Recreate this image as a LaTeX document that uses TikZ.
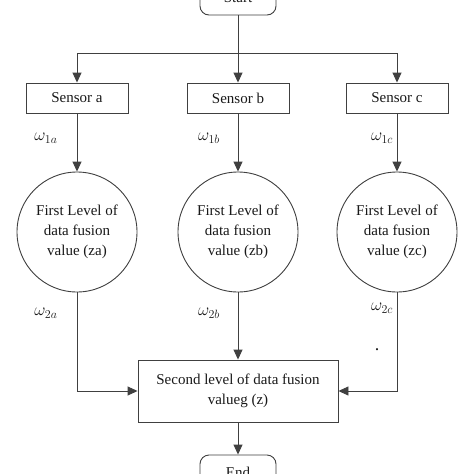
\documentclass[tikz,border=0pt]{standalone}
\usepackage{fontspec}
\setmainfont{Liberation Serif}
\usetikzlibrary{arrows.meta}
\begin{document}
\begin{tikzpicture}[x=1pt,y=-1pt,
  every node/.style={font=\fontsize{15}{20}\selectfont, text=black!90},
  conn/.style={draw=black!75, line width=0.9pt},
  arr/.style={conn, -{Triangle[length=10pt,width=9pt]}},
  termbox/.style={draw=black!75, line width=0.9pt, rounded corners=9pt, minimum width=76pt, minimum height=34pt, inner sep=0pt},
  sensorbox/.style={draw=black!75, line width=0.9pt, minimum width=102pt, minimum height=30pt, inner sep=0pt},
  fusecirc/.style={draw=black!75, line width=0.9pt, circle, minimum size=120pt, inner sep=0pt, align=center},
  wlabel/.style={font=\fontsize{18}{20}\selectfont}
]
\useasboundingbox (0,0) rectangle (474,474);
\clip (0,0) rectangle (474,474);
\fill[white] (0,0) rectangle (474,474);

\node[termbox] (start) at (238,-2) {Start};
\node[sensorbox] (sa) at (77,98) {Sensor a};
\node[sensorbox] (sb) at (238,98) {Sensor b};
\node[sensorbox] (sc) at (397,98) {Sensor c};
\node[fusecirc] (ca) at (77,232) {First Level of\\data fusion\\value (za)};
\node[fusecirc] (cb) at (238,232) {First Level of\\data fusion\\value (zb)};
\node[fusecirc] (cc) at (397,232) {First Level of\\data fusion\\value (zc)};
\node[draw=black!75, line width=0.9pt, minimum width=200pt, minimum height=62pt, align=center, inner sep=0pt] (sec) at (238,391) {Second level of data fusion\\valueg (z)};
\node[termbox] (end) at (238,472) {End};

\coordinate (j1) at (77,53);
\coordinate (j3) at (397,53);

\draw[arr] (start) -- (sb);
\draw[conn] (j1) -- (j3);
\draw[arr] (j1) -- (sa);
\draw[arr] (j3) -- (sc);
\draw[arr] (sa) -- (ca);
\draw[arr] (sb) -- (cb);
\draw[arr] (sc) -- (cc);
\draw[arr] (ca.south) |- (sec.west);
\draw[arr] (cb) -- (sec);
\draw[arr] (cc.south) |- (sec.east);
\draw[arr] (sec) -- (end);

\node[wlabel] (w1a) at (46,138) {$\omega_{1a}$};
\node[wlabel] (w1b) at (209,138) {$\omega_{1b}$};
\node[wlabel] (w1c) at (382,138) {$\omega_{1c}$};
\node[wlabel] (w2a) at (46,313) {$\omega_{2a}$};
\node[wlabel] (w2b) at (209,313) {$\omega_{2b}$};
\node[wlabel] (w2c) at (382,308) {$\omega_{2c}$};
\node[wlabel] (dot) at (377,350) {.};
\end{tikzpicture}
\end{document}
